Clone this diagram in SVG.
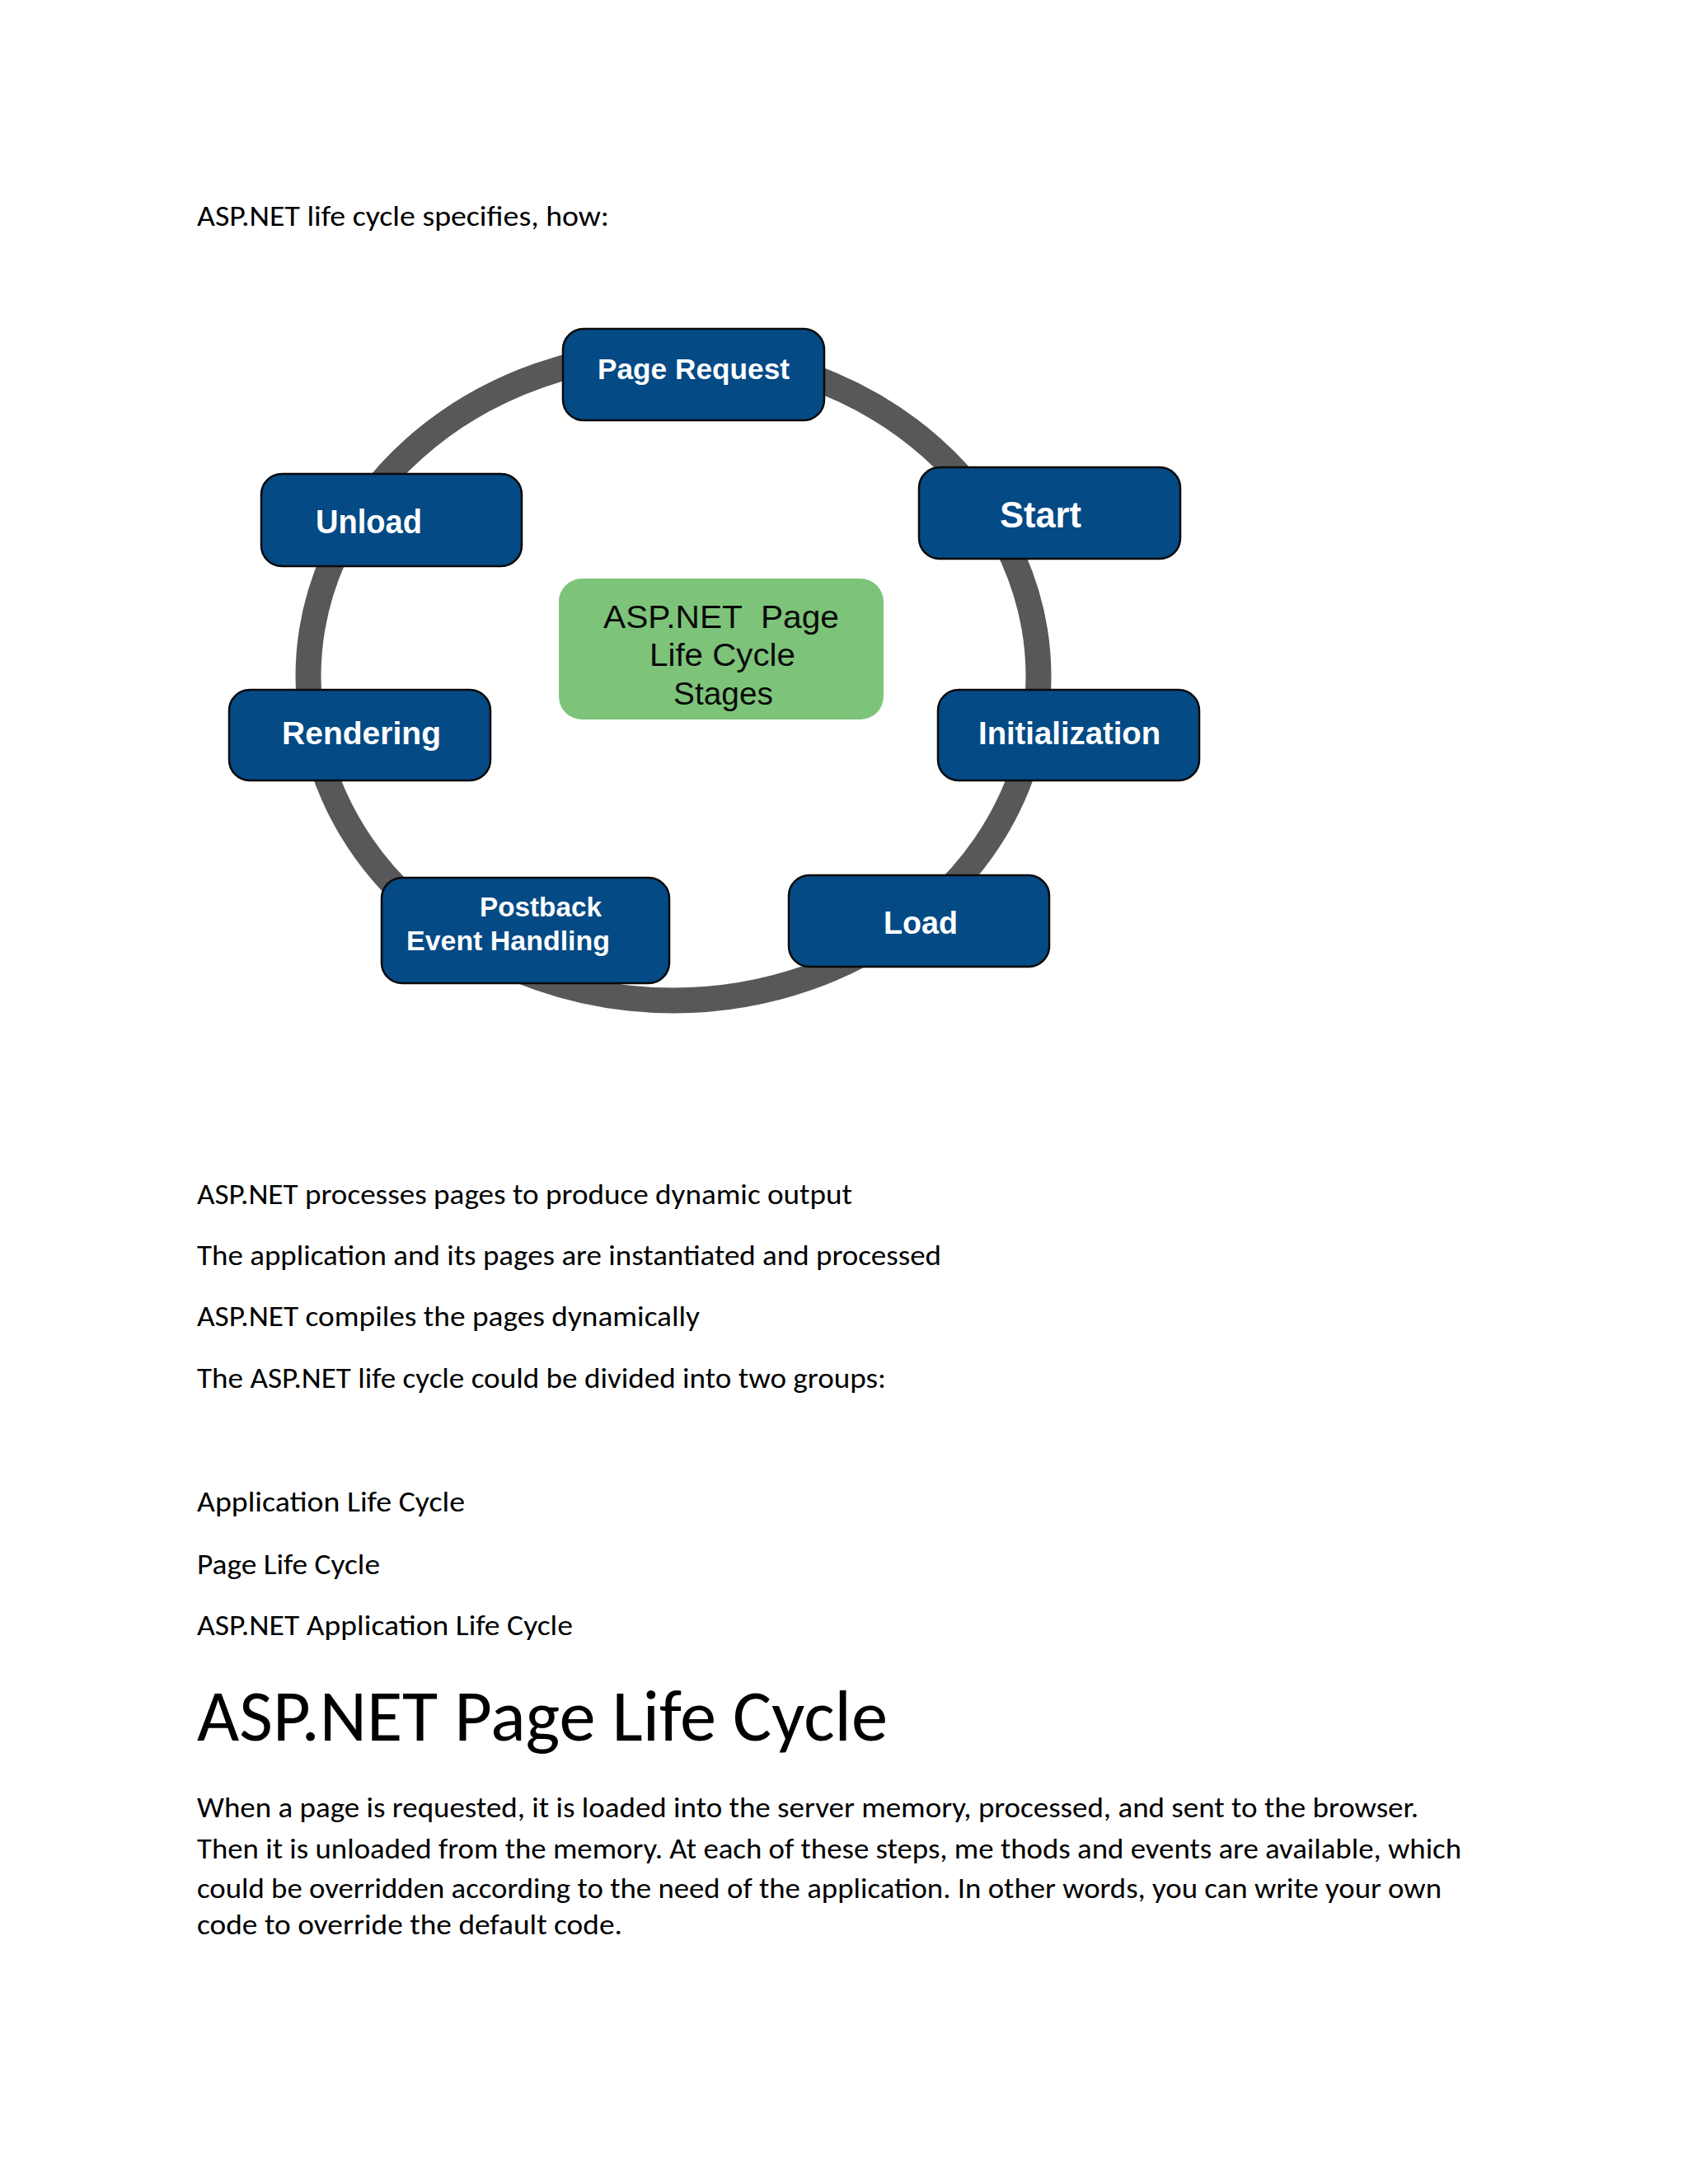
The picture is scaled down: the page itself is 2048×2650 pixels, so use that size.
<svg xmlns="http://www.w3.org/2000/svg" width="2048" height="2650" viewBox="0 0 2048 2650">
<style>
.body{font-family:Carlito,"Liberation Sans",Arial,sans-serif;font-size:35px;fill:#000}
.h1{font-family:Carlito,"Liberation Sans",Arial,sans-serif;font-size:88px;fill:#000}
.box{fill:#044a85;stroke:#0a0a0a;stroke-width:2.5}
.lbl{font-family:"Liberation Sans",Arial,sans-serif;font-weight:bold;fill:#ffffff}
.ctr{font-family:"Liberation Sans",Arial,sans-serif;fill:#0a0a0a;font-size:39px}
</style>
<rect width="2048" height="2650" fill="#ffffff"/>
<g id="text-top">
<text class="body" x="239" y="274" textLength="500" lengthAdjust="spacingAndGlyphs">ASP.NET life cycle specifies, how:</text>
</g>
<g id="connectors">
<ellipse cx="817" cy="821" rx="443" ry="393" fill="none" stroke="#58585a" stroke-width="31"/>
</g>
<g id="node-page-request">
<rect class="box" x="683" y="399" width="317" height="111" rx="25"/>
<text class="lbl" x="725" y="460" font-size="35" textLength="233" lengthAdjust="spacingAndGlyphs">Page Request</text>
</g>
<g id="node-start">
<rect class="box" x="1115" y="567" width="317" height="111" rx="25"/>
<text class="lbl" x="1213" y="640" font-size="44" textLength="99" lengthAdjust="spacingAndGlyphs">Start</text>
</g>
<g id="node-unload">
<rect class="box" x="317" y="575" width="316" height="112" rx="25"/>
<text class="lbl" x="383" y="647" font-size="41" textLength="129" lengthAdjust="spacingAndGlyphs">Unload</text>
</g>
<g id="node-rendering">
<rect class="box" x="278" y="837" width="317" height="110" rx="25"/>
<text class="lbl" x="342" y="903" font-size="39" textLength="193" lengthAdjust="spacingAndGlyphs">Rendering</text>
</g>
<g id="node-initialization">
<rect class="box" x="1138" y="837" width="317" height="110" rx="25"/>
<text class="lbl" x="1187" y="903" font-size="38" textLength="221" lengthAdjust="spacingAndGlyphs">Initialization</text>
</g>
<g id="node-load">
<rect class="box" x="957" y="1062" width="316" height="111" rx="25"/>
<text class="lbl" x="1072" y="1133" font-size="39" textLength="90" lengthAdjust="spacingAndGlyphs">Load</text>
</g>
<g id="node-postback">
<rect class="box" x="463" y="1065" width="349" height="128" rx="25"/>
<text class="lbl" x="582" y="1112" font-size="34" textLength="148" lengthAdjust="spacingAndGlyphs">Postback</text>
<text class="lbl" x="493" y="1153" font-size="34" textLength="247" lengthAdjust="spacingAndGlyphs">Event Handling</text>
</g>
<g id="node-center">
<rect x="678" y="702" width="394" height="171" rx="28" fill="#7dc47a"/>
<text class="ctr" x="732" y="762" textLength="286" lengthAdjust="spacingAndGlyphs" xml:space="preserve">ASP.NET  Page</text>
<text class="ctr" x="788" y="808" textLength="177" lengthAdjust="spacingAndGlyphs">Life Cycle</text>
<text class="ctr" x="817" y="855" textLength="121" lengthAdjust="spacingAndGlyphs">Stages</text>
</g>
<g id="text-body">
<text class="body" x="239" y="1461" textLength="795" lengthAdjust="spacingAndGlyphs">ASP.NET processes pages to produce dynamic output</text>
<text class="body" x="239" y="1535" textLength="903" lengthAdjust="spacingAndGlyphs">The application and its pages are instantiated and processed</text>
<text class="body" x="239" y="1609" textLength="610" lengthAdjust="spacingAndGlyphs">ASP.NET compiles the pages dynamically</text>
<text class="body" x="239" y="1684" textLength="836" lengthAdjust="spacingAndGlyphs">The ASP.NET life cycle could be divided into two groups:</text>
<text class="body" x="239" y="1834" textLength="325" lengthAdjust="spacingAndGlyphs">Application Life Cycle</text>
<text class="body" x="239" y="1910" textLength="222" lengthAdjust="spacingAndGlyphs">Page Life Cycle</text>
<text class="body" x="239" y="1984" textLength="456" lengthAdjust="spacingAndGlyphs">ASP.NET Application Life Cycle</text>
<text class="h1" x="239" y="2112" textLength="838" lengthAdjust="spacingAndGlyphs">ASP.NET Page Life Cycle</text>
<text class="body" x="239" y="2205" textLength="1482" lengthAdjust="spacingAndGlyphs">When a page is requested, it is loaded into the server memory, processed, and sent to the browser.</text>
<text class="body" x="239" y="2255" textLength="1534" lengthAdjust="spacingAndGlyphs">Then it is unloaded from the memory. At each of these steps, me thods and events are available, which</text>
<text class="body" x="239" y="2303" textLength="1510" lengthAdjust="spacingAndGlyphs">could be overridden according to the need of the application. In other words, you can write your own</text>
<text class="body" x="239" y="2347" textLength="516" lengthAdjust="spacingAndGlyphs">code to override the default code.</text>
</g>
</svg>
